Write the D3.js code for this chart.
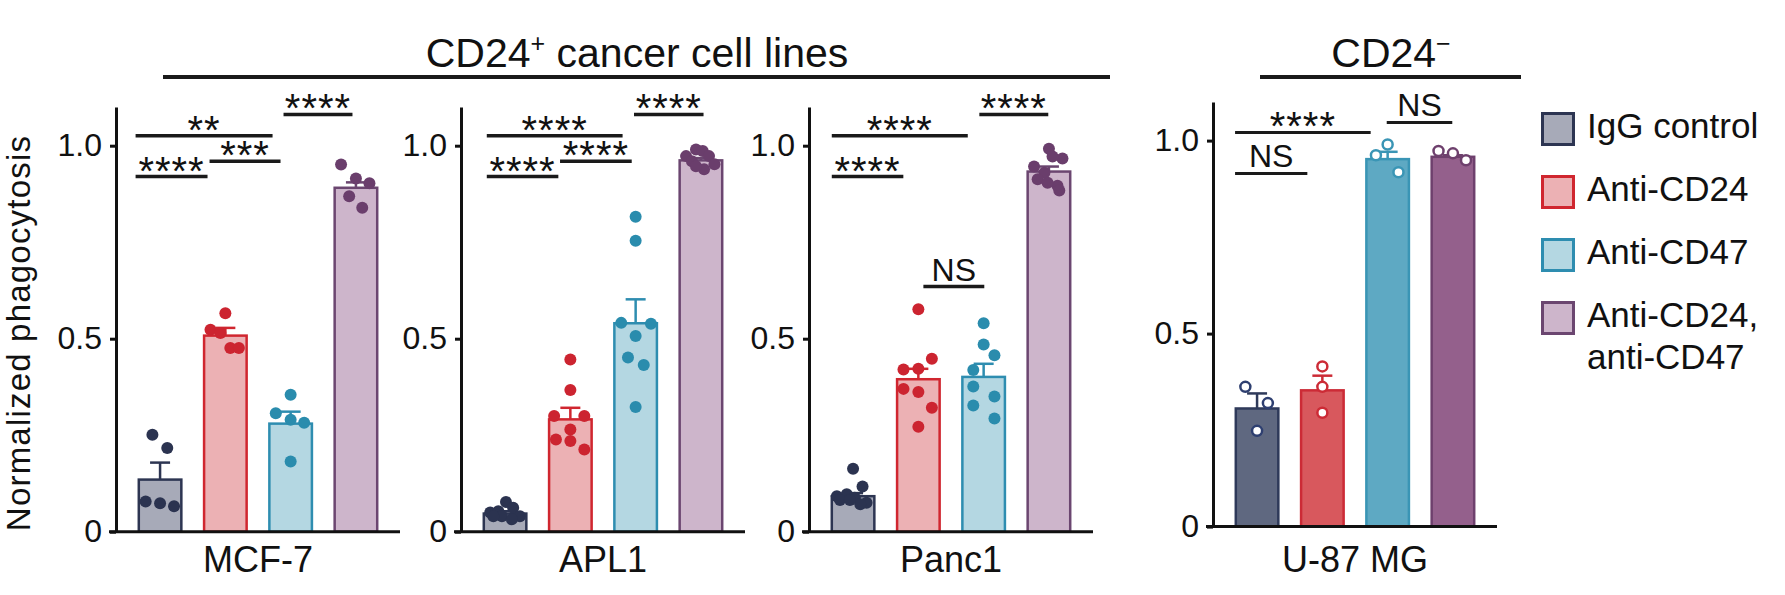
<!DOCTYPE html>
<html lang="en">
<head>
<meta charset="UTF-8" />
<title>Normalized phagocytosis</title>
<script src="https://d3js.org/d3.v7.min.js"></script>
<style>
    body { margin: 0; background: #fff; }
    svg { font-family: "Liberation Sans", Arial, Helvetica, sans-serif; }
    .axis path, .axis line { stroke: #111; stroke-width: 3; }
    .axis text { font-size: 32px; fill: #111; font-family: "Liberation Sans", Arial, sans-serif; }
</style>
</head>
<body>
<script>
    // ---- data ----
    const groups = ["IgG control", "Anti-CD24", "Anti-CD47", "Anti-CD24, anti-CD47"];
    const panelNames = ["MCF-7", "APL1", "Panc1", "U-87 MG"];
    const tickValues = [0, 0.5, 1.0];

    const mcf7Means = [0.135, 0.508, 0.280, 0.891];
    const mcf7Sem = [0.044, 0.020, 0.031, 0.014];
    const mcf7Points = [
        [0.251, 0.217, 0.078, 0.074, 0.066],
        [0.566, 0.523, 0.515, 0.476, 0.476],
        [0.355, 0.307, 0.290, 0.282, 0.182],
        [0.951, 0.915, 0.903, 0.869, 0.839]
    ];
    const mcf7Jitter = [
        [-0.17, 0.16, -0.32, 0.00, 0.31],
        [0.00, -0.33, -0.11, 0.11, 0.30],
        [0.00, -0.33, 0.00, 0.30, 0.00],
        [-0.33, 0.00, 0.30, -0.15, 0.14]
    ];

    const apl1Means = [0.047, 0.291, 0.540, 0.962];
    const apl1Sem = [0.006, 0.030, 0.062, 0.006];
    const apl1Points = [
        [0.077, 0.050, 0.053, 0.062, 0.040, 0.040, 0.032, 0.040],
        [0.446, 0.367, 0.300, 0.300, 0.265, 0.239, 0.235, 0.213],
        [0.816, 0.754, 0.541, 0.539, 0.507, 0.451, 0.432, 0.323],
        [0.990, 0.986, 0.973, 0.973, 0.960, 0.952, 0.939, 0.947]
    ];
    const apl1Jitter = [
        [0.02, -0.33, -0.15, 0.18, 0.33, -0.07, 0.15, -0.26],
        [0.00, 0.00, -0.36, 0.31, 0.00, -0.32, 0.00, 0.31],
        [0.00, 0.00, -0.32, 0.34, 0.00, -0.17, 0.18, 0.00],
        [-0.11, 0.04, -0.33, 0.18, -0.20, 0.30, 0.07, -0.11]
    ];

    const panc1Means = [0.092, 0.395, 0.401, 0.933];
    const panc1Sem = [0.008, 0.027, 0.034, 0.013];
    const panc1Points = [
        [0.163, 0.117, 0.092, 0.097, 0.088, 0.075, 0.082, 0.071, 0.082],
        [0.576, 0.448, 0.420, 0.422, 0.370, 0.362, 0.321, 0.272],
        [0.540, 0.485, 0.457, 0.419, 0.376, 0.350, 0.327, 0.293],
        [0.992, 0.967, 0.972, 0.946, 0.930, 0.913, 0.896, 0.884, 0.904]
    ];
    const panc1Jitter = [
        [0.00, 0.21, -0.36, -0.14, 0.04, 0.30, -0.29, 0.16, -0.07],
        [0.00, 0.30, -0.33, 0.00, -0.33, 0.00, 0.30, 0.00],
        [0.00, 0.00, 0.24, -0.23, -0.23, 0.24, -0.23, 0.24],
        [0.00, 0.30, 0.08, -0.33, -0.10, -0.25, 0.19, 0.23, -0.03]
    ];

    const u87Means = [0.306, 0.353, 0.952, 0.958];
    const u87Sem = [0.039, 0.038, 0.019, 0.004];
    const u87Points = [
        [0.362, 0.320, 0.248],
        [0.415, 0.362, 0.295],
        [0.990, 0.962, 0.918],
        [0.973, 0.967, 0.949]
    ];
    const u87Jitter = [
        [-0.26, 0.24, 0.00],
        [0.00, 0.00, 0.00],
        [0.00, -0.26, 0.24],
        [-0.32, 0.00, 0.29]
    ];

    // significance brackets: from/to in bar units (0 = first bar centre), y in data units
    const mcf7Sig = [
        { from: -0.375, to: 0.727, y: 0.920, label: "****" },
        { from: -0.375, to: 1.723, y: 1.026, label: "**" },
        { from: 0.758, to: 1.845, y: 0.960, label: "***" },
        { from: 1.891, to: 2.947, y: 1.081, label: "****" }
    ];
    const apl1Sig = [
        { from: -0.28, to: 0.816, y: 0.920, label: "****" },
        { from: -0.28, to: 1.80, y: 1.026, label: "****" },
        { from: 0.842, to: 1.94, y: 0.960, label: "****" },
        { from: 1.975, to: 3.04, y: 1.081, label: "****" }
    ];
    const panc1Sig = [
        { from: -0.326, to: 0.77, y: 0.920, label: "****" },
        { from: -0.326, to: 1.757, y: 1.026, label: "****" },
        { from: 1.077, to: 2.01, y: 0.635, label: "NS" },
        { from: 1.934, to: 2.99, y: 1.081, label: "****" }
    ];
    const u87Sig = [
        { from: -0.337, to: 0.77, y: 0.915, label: "NS" },
        { from: -0.337, to: 1.74, y: 1.021, label: "****" },
        { from: 1.986, to: 2.99, y: 1.047, label: "NS" }
    ];

    const panels = [
        { name: panelNames[0], means: mcf7Means, sem: mcf7Sem, points: mcf7Points, jitter: mcf7Jitter, sig: mcf7Sig, solid: false },
        { name: panelNames[1], means: apl1Means, sem: apl1Sem, points: apl1Points, jitter: apl1Jitter, sig: apl1Sig, solid: false },
        { name: panelNames[2], means: panc1Means, sem: panc1Sem, points: panc1Points, jitter: panc1Jitter, sig: panc1Sig, solid: false },
        { name: panelNames[3], means: u87Means, sem: u87Sem, points: u87Points, jitter: u87Jitter, sig: u87Sig, solid: true }
    ];

    // ---- styles ----
    const lightFill = ["#a7aab8", "#ecb1b4", "#b4d7e2", "#cdb5cb"];
    const darkStroke = ["#2d3552", "#d0262f", "#2e8db0", "#6b4670"];
    const dotColor = ["#2b3350", "#cc2430", "#2a8cad", "#6a3e6c"];
    const solidFill = ["#5f6880", "#d8585d", "#5ea9c3", "#94608c"];
    const solidStroke = ["#2f3a5a", "#cc2b36", "#3a95b5", "#6e406d"];
    const hollowStroke = ["#2e3f70", "#cc2b36", "#3a95b5", "#6e406d"];

    const w = 1785, h = 595;
    const layout = [
        { x: 116, y0: 531.7 },
        { x: 461, y0: 531.7 },
        { x: 809, y0: 531.7 },
        { x: 1213, y0: 526.6 }
    ];
    const unit = 386;

    const svg = d3.select("body")
        .append("svg")
        .attr("width", w)
        .attr("height", h);

    panels.forEach((p, k) => {
        const L = layout[k];
        const x = d3.scaleBand()
            .domain(d3.range(groups.length))
            .range([L.x, L.x + 284])
            .paddingInner(0.31)
            .paddingOuter(0.33);
        const y = d3.scaleLinear()
            .domain([0, 1.1])
            .range([L.y0, L.y0 - 1.1 * unit]);
        const bw = x.bandwidth();
        const cx = i => x(i) + bw / 2;
        const ux = u => x(0) + bw / 2 + u * x.step();

        const g = svg.append("g");

        // bars
        g.selectAll("rect.bar")
            .data(p.means)
            .enter().append("rect")
            .attr("class", "bar")
            .attr("x", (d, i) => x(i) + 1.25)
            .attr("width", bw - 2.5)
            .attr("y", d => y(d))
            .attr("height", d => y(0) - y(d))
            .attr("fill", (d, i) => p.solid ? solidFill[i] : lightFill[i])
            .attr("stroke", (d, i) => p.solid ? solidStroke[i] : darkStroke[i])
            .attr("stroke-width", 2.5);

        // error bars (mean + s.e.m.)
        const err = g.selectAll("g.err")
            .data(p.means)
            .enter().append("g")
            .attr("class", "err")
            .attr("stroke", (d, i) => p.solid ? solidStroke[i] : darkStroke[i])
            .attr("stroke-width", 2.5);
        err.append("line")
            .attr("x1", (d, i) => cx(i)).attr("x2", (d, i) => cx(i))
            .attr("y1", d => y(d)).attr("y2", (d, i) => y(d + p.sem[i]));
        err.append("line")
            .attr("x1", (d, i) => cx(i) - 10).attr("x2", (d, i) => cx(i) + 10)
            .attr("y1", (d, i) => y(d + p.sem[i])).attr("y2", (d, i) => y(d + p.sem[i]));

        // individual points
        p.points.forEach((vals, i) => {
            g.selectAll("circle.pt" + i)
                .data(vals)
                .enter().append("circle")
                .attr("class", "pt" + i)
                .attr("cx", (d, j) => cx(i) + p.jitter[i][j] * bw)
                .attr("cy", d => y(d))
                .attr("r", p.solid ? 5 : 6)
                .attr("fill", p.solid ? "#fff" : dotColor[i])
                .attr("stroke", p.solid ? hollowStroke[i] : "none")
                .attr("stroke-width", p.solid ? 2.5 : 0);
        });

        // y axis
        g.append("g")
            .attr("class", "axis")
            .attr("transform", `translate(${L.x},0)`)
            .call(d3.axisLeft(y)
                .tickValues(tickValues)
                .tickFormat(d => d === 0 ? "0" : d3.format(".1f")(d))
                .tickSize(6)
                .tickSizeOuter(0)
                .tickPadding(8));

        // x baseline
        g.append("line")
            .attr("x1", L.x - 7).attr("x2", L.x + 284)
            .attr("y1", y(0)).attr("y2", y(0))
            .attr("stroke", "#111").attr("stroke-width", 3);

        // panel label
        g.append("text")
            .attr("x", L.x + 142)
            .attr("y", 571.7)
            .attr("text-anchor", "middle")
            .attr("font-size", 36)
            .attr("fill", "#111")
            .text(p.name);

        // significance brackets
        const sig = g.selectAll("g.sig")
            .data(p.sig)
            .enter().append("g")
            .attr("class", "sig");
        sig.append("line")
            .attr("x1", d => ux(d.from)).attr("x2", d => ux(d.to))
            .attr("y1", d => y(d.y)).attr("y2", d => y(d.y))
            .attr("stroke", "#1a1a1a")
            .attr("stroke-width", k === 3 ? 3 : 3.5);
        sig.append("text")
            .attr("x", d => (ux(d.from) + ux(d.to)) / 2)
            .attr("y", d => d.label === "NS" ? y(d.y) - 6 : y(d.y) + 8)
            .attr("text-anchor", "middle")
            .attr("font-size", d => d.label === "NS" ? 32 : 40)
            .attr("letter-spacing", d => d.label === "NS" ? 0 : 1)
            .attr("fill", "#111")
            .text(d => d.label);
    });

    // y axis title
    svg.append("text")
        .attr("transform", "translate(30,333) rotate(-90)")
        .attr("text-anchor", "middle")
        .attr("font-size", 33)
        .attr("letter-spacing", 1.2)
        .attr("fill", "#111")
        .text("Normalized phagocytosis");

    // group headers
    const head1 = svg.append("text")
        .attr("x", 637)
        .attr("y", 66.7)
        .attr("text-anchor", "middle")
        .attr("font-size", 41)
        .attr("fill", "#111");
    head1.append("tspan").text("CD24");
    head1.append("tspan").attr("font-size", 25).attr("dy", -15).text("+");
    head1.append("tspan").attr("dy", 15).text(" cancer cell lines");
    svg.append("line")
        .attr("x1", 163).attr("x2", 1110)
        .attr("y1", 77).attr("y2", 77)
        .attr("stroke", "#1a1a1a").attr("stroke-width", 4);

    const head2 = svg.append("text")
        .attr("x", 1391)
        .attr("y", 66.7)
        .attr("text-anchor", "middle")
        .attr("font-size", 41)
        .attr("fill", "#111");
    head2.append("tspan").text("CD24");
    head2.append("tspan").attr("font-size", 25).attr("dy", -15).text("\u2212");
    svg.append("line")
        .attr("x1", 1260).attr("x2", 1521)
        .attr("y1", 77).attr("y2", 77)
        .attr("stroke", "#1a1a1a").attr("stroke-width", 4);

    // legend
    const legend = svg.selectAll("g.legend")
        .data(groups)
        .enter().append("g")
        .attr("class", "legend")
        .attr("transform", (d, i) => `translate(1541, ${112 + i * 63})`);
    legend.append("rect")
        .attr("x", 1.5).attr("y", 1.5)
        .attr("width", 31).attr("height", 31)
        .attr("fill", (d, i) => lightFill[i])
        .attr("stroke", (d, i) => darkStroke[i])
        .attr("stroke-width", 3);
    legend.append("text")
        .attr("x", 46)
        .attr("y", 26)
        .attr("font-size", 35)
        .attr("fill", "#111")
        .each(function (d) {
            const parts = d.split(", ");
            const t = d3.select(this);
            parts.forEach((s, j) => {
                t.append("tspan")
                    .attr("x", 46)
                    .attr("dy", j === 0 ? 0 : 42)
                    .text(j < parts.length - 1 ? s + "," : s);
            });
        });
</script>
</body>
</html>
